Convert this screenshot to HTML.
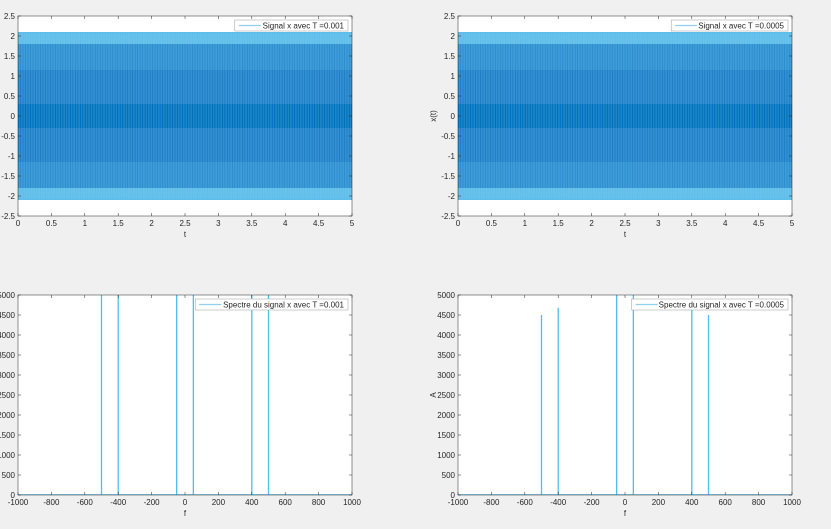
<!DOCTYPE html>
<html><head><meta charset="utf-8"><style>
body{margin:0;background:#f0f0f0;font-family:"Liberation Sans",sans-serif;}
svg text{font-family:"Liberation Sans",sans-serif;font-size:8px;fill:#262626;}
</style></head><body>
<svg id="s" width="831" height="524" xmlns="http://www.w3.org/2000/svg"></svg>
<script>
const tTicks=[0,0.5,1,1.5,2,2.5,3,3.5,4,4.5,5];
const yTicksSig=[-2.5,-2,-1.5,-1,-0.5,0,0.5,1,1.5,2,2.5];
const fTicks=[-1000,-800,-600,-400,-200,0,200,400,600,800,1000];
const aTicks=[0,500,1000,1500,2000,2500,3000,3500,4000,4500,5000];
// signal envelope bands: [amplitude, color]
const bandAmps=[2.1,1.8,1.15,0.3];
const bandCols=["#5fbfea","#2d8fd0","#1f80c8","#0072bd"];
const peakFreqsL=[-500,-400,-50,50,400,500];
const peakValsL=[5000,5000,5000,5000,5000,5000];
const peakFreqsR=[-500,-400,-50,50,400,500];
const peakValsR=[4500,4680,5000,5000,4650,4500];
const NS="http://www.w3.org/2000/svg";
const svg=document.getElementById('s');
function el(tag,attrs,parent){const e=document.createElementNS(NS,tag);for(const k in attrs)e.setAttribute(k,attrs[k]);(parent||svg).appendChild(e);return e;}
function axes(x0,x1,y0,y1,xmin,xmax,ymin,ymax,xt,yt,xlabel,ylabel,legend,name){
  const g=el('g',{});
  
  
  const bg=el('rect',{x:x0,y:y0,width:x1-x0,height:y1-y0,fill:'#fff'},g);
  
  
  const sx=v=>x0+(v-xmin)/(xmax-xmin)*(x1-x0);
  const sy=v=>y1-(v-ymin)/(ymax-ymin)*(y1-y0);
  return {g,sx,sy,finish(){
    el('rect',{x:x0,y:y0,width:x1-x0,height:y1-y0,fill:'none',stroke:'#262626','stroke-width':0.5},g);
    xt.forEach(v=>{const x=sx(v);el('line',{x1:x,x2:x,y1:y1,y2:y1-3,stroke:'#262626','stroke-width':0.5},g);el('line',{x1:x,x2:x,y1:y0,y2:y0+3,stroke:'#262626','stroke-width':0.5},g);
      const t=el('text',{x:x,y:y1+10,'text-anchor':'middle'},g);t.textContent=v;
      
      });
    yt.forEach(v=>{const y=sy(v);el('line',{x1:x0,x2:x0+3,y1:y,y2:y,stroke:'#262626','stroke-width':0.5},g);el('line',{x1:x1,x2:x1-3,y1:y,y2:y,stroke:'#262626','stroke-width':0.5},g);
      const t=el('text',{x:x0-3,y:y+3,'text-anchor':'end'},g);t.textContent=v;
      
      });
    const xl=el('text',{x:(x0+x1)/2,y:y1+21,'text-anchor':'middle','font-size':9},g);xl.textContent=xlabel;
    
    
    if(ylabel){const yl=el('text',{x:0,y:0,'text-anchor':'middle',transform:`translate(${x0-22},${(y0+y1)/2}) rotate(-90)`},g);yl.textContent=ylabel;
      
      }
    const lw=legend.length*3.6+34;
    const lg=el('g',{},g);
    
    
    el('rect',{x:x1-4-lw,y:y0+4,width:lw,height:11,fill:'#fff',stroke:'#999','stroke-width':0.5},lg);
    el('line',{x1:x1-lw,x2:x1-lw+22,y1:y0+9.5,y2:y0+9.5,stroke:'#8fd0f0','stroke-width':1.2},lg);
    const lt=el('text',{x:x1-8,y:y0+12.5,'text-anchor':'end','font-size':7},lg);lt.textContent=legend;
  }};
}
function signal(x0,name,leg,ylab){
  const a=axes(x0,x0+334,16,216,0,5,-2.5,2.5,tTicks,yTicksSig,'t',ylab,leg,name);
  bandAmps.forEach((amp,i)=>{const r=el('rect',{x:a.sx(0),y:a.sy(amp),width:a.sx(5)-a.sx(0),height:a.sy(-amp)-a.sy(amp),fill:bandCols[i]},a.g);
    
    });
  // faint vertical texture
  for(let i=0;i<=200;i++){const t=i*5/200;el('line',{x1:a.sx(t),x2:a.sx(t),y1:a.sy(2.05),y2:a.sy(-2.05),stroke:'#8fd0f0','stroke-width':0.4,opacity:0.5},a.g);}
  a.finish();
}
function spectrum(x0,name,leg,ylab,fr,vals){
  const a=axes(x0,x0+334,295,495,-1000,1000,0,5000,fTicks,aTicks,'f',ylab,leg,name);
  el('line',{x1:a.sx(-1000),x2:a.sx(1000),y1:a.sy(10),y2:a.sy(10),stroke:'#4dbeee','stroke-width':0.8},a.g);
  fr.forEach((f,i)=>{const l=el('line',{x1:a.sx(f),x2:a.sx(f),y1:a.sy(0),y2:a.sy(vals[i]),stroke:'#4dbeee','stroke-width':1.3},a.g);
    
    });
  a.finish();
}
signal(18,'signal-plot-t001','Signal x avec T =0.001','');
signal(458,'signal-plot-t0005','Signal x avec T =0.0005','x(t)');
spectrum(18,'spectrum-plot-t001','Spectre du signal x avec T =0.001','',peakFreqsL,peakValsL);
spectrum(458,'spectrum-plot-t0005','Spectre du signal x avec T =0.0005','A',peakFreqsR,peakValsR);
</script>
</body></html>
